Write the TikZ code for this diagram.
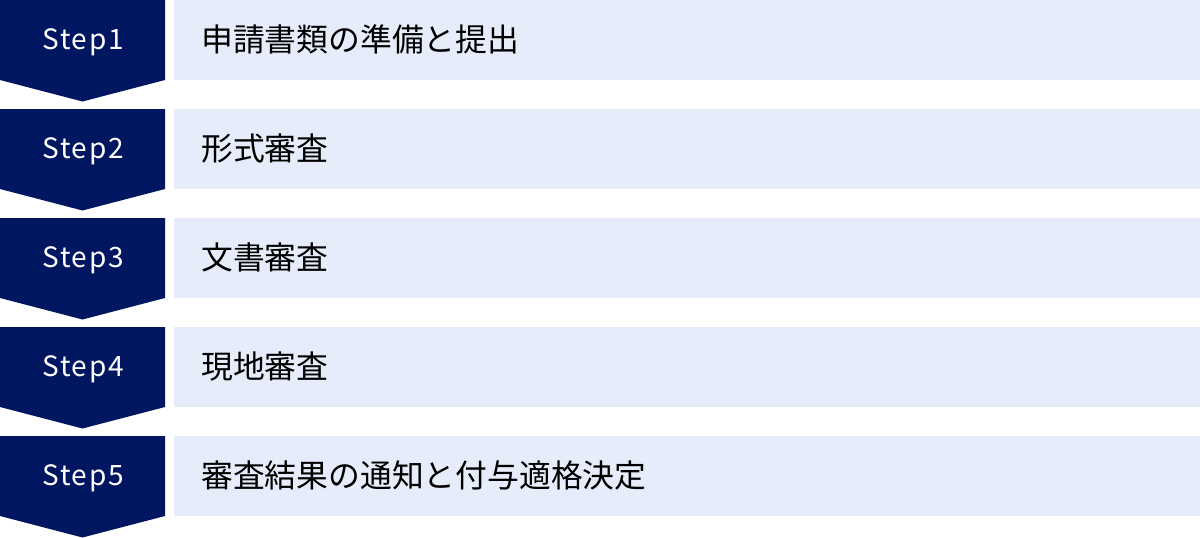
\documentclass[tikz,border=0pt]{standalone}
\usepackage{fontspec}
\newfontfamily\jpfont{Noto Sans CJK JP}
\newfontfamily\stepfont[LetterSpace=6]{Noto Sans CJK JP}
\definecolor{navy}{HTML}{001660}
\definecolor{pale}{HTML}{E6ECF9}
\begin{document}
\begin{tikzpicture}[x=1pt,y=-1pt,
  chev/.style={fill=navy,draw=none},
  bar/.style={fill=pale,draw=none},
  steplabel/.style={text=white,font=\stepfont\fontsize{28}{32}\selectfont,anchor=center,inner sep=0},
  barlabel/.style={text=black,font=\jpfont\fontsize{31.8}{36}\selectfont,anchor=west,inner sep=0}]
\useasboundingbox (0,0) rectangle (1200,538);
\foreach \i/\t in {1/申請書類の準備と提出,2/形式審査,3/文書審査,4/現地審査,5/審査結果の通知と付与適格決定}{
  \pgfmathsetmacro{\y}{109*(\i-1)}
  \fill[chev] (0,\y) -- (165,\y) -- (165,\y+80) -- (82.5,\y+101.5) -- (0,\y+80) -- cycle;
  \fill[bar] (174,\y) rectangle (1200,\y+80);
  \node[steplabel] (s\i) at (83,\y+42) {Step\i};
  \node[barlabel] (b\i) at (201,\y+39.5) {\t};
}
\end{tikzpicture}
\end{document}
